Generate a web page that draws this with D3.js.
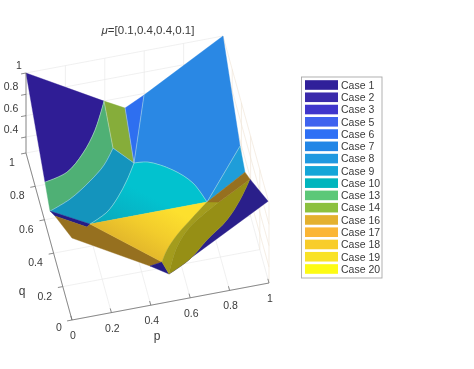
<!DOCTYPE html>
<html>
<head>
<meta charset="utf-8">
<script src="https://cdn.jsdelivr.net/npm/d3@7"></script>
<style>
  html, body { margin: 0; padding: 0; background: #fff; }
  svg { display: block; filter: blur(0.3px); }
  text { font-family: "Liberation Sans", sans-serif; fill: #3a3a3a; }
</style>
</head>
<body>
<div id="chart"></div>
<script>
// legend
const caseNames = ['Case 1', 'Case 2', 'Case 3', 'Case 5', 'Case 6', 'Case 7', 'Case 8', 'Case 9',
  'Case 10', 'Case 13', 'Case 14', 'Case 16', 'Case 17', 'Case 18', 'Case 19', 'Case 20'];
const caseColors = ['#30209a', '#3a2aaa', '#4036cc', '#3f63ef', '#2f70f5', '#2286e6', '#2099e0', '#14a6d8',
  '#00b5bd', '#5cc878', '#8cc13f', '#e4b12e', '#fbb635', '#f8cd2a', '#f9e226', '#fdfb14'];

const pTicks = [0, 0.2, 0.4, 0.6, 0.8, 1];
const qTicks = [0, 0.2, 0.4, 0.6, 0.8, 1];
const zTicks = [0.4, 0.6, 0.8, 1];

// surface vertices, [p, q, z]
const cornerA = [0, 1, 1];
const cornerG = [1, 1, 1];
const ptB = [0.396, 1, 0.599];
const ptC = [0.503, 1, 0.497];
const ptH = [0.599, 1, 0.585];
const ptD = [0.4795, 0.7057, 0.45];
const ptE = [0.3839, 0.7527, 0.55];
const ptK = [0.78, 0.4056, 0.45];
const ptL = [0.186, 0.4055, 0.45];
const ptN = [0.5044, 0.2035, 0.3];
const ptO = [0.5293, 0.1582, 0.25];
const ptP = [0.4411, 0.1936, 0.3];
const ptQ = [0.1019, 0.4364, 0.3];
const ptR = [0.0349, 0.5189, 0.4];
const ptS = [0.1718, 0.4099, 0.42];
const ptT = [0.8379, 0.3928, 0.45];
const edgeF = [0, 0.587, 0.624];
const edgeM = [0, 0.478, 0.523];
const right1 = [1, 0.63, 0.547];
const right2 = [1, 0.522, 0.472];
const right3 = [1, 0.413, 0.577];
const right4 = [1, 0.02, 0.985];

// curved borders, end points included
const arcFB = [edgeF, [0.1228, 0.6347, 0.6], [0.2253, 0.7258, 0.6], [0.3138, 0.8439, 0.6], ptB];
const arcME = [edgeM, [0.1085, 0.5083, 0.55], [0.229, 0.5894, 0.55], [0.3178, 0.6655, 0.55], ptE];
const arcLD = [ptL, [0.2841, 0.4556, 0.45], [0.3571, 0.5293, 0.45], [0.4231, 0.6164, 0.45], ptD];
const arcDK = [ptD, [0.5484, 0.6965, 0.45], [0.6584, 0.6242, 0.45], [0.7377, 0.5288, 0.45], ptK];
const arcKN = [ptK, [0.7025, 0.3779, 0.38], [0.6013, 0.2925, 0.38], [0.5331, 0.2178, 0.38], ptN];
const arcTO = [ptT, [0.6747, 0.3242, 0.38], [0.5854, 0.2242, 0.38], ptO];
const arcOU = [ptO, [0.6435, 0.1907, 0.3], [0.7366, 0.2197, 0.4], [0.8526, 0.2818, 0.45], [0.9348, 0.3513, 0.5], right3];

const rev = a => a.slice().reverse();
const arc = a => ({ arc: a });

// each border is a straight run of vertices or an arc
const patches = [
  { fill: '#2f1d95', segs: [[cornerA, ptB], arc(rev(arcFB))] },
  { fill: '#4fb075', segs: [arc(arcFB), [ptB, ptE], arc(rev(arcME))] },
  { fill: '#86ad3a', segs: [[ptB, ptC, ptD, ptE]] },
  { fill: '#2e6ff0', segs: [[ptC, ptH, ptD]] },
  { fill: '#2a88e4', segs: [[ptH, cornerG, right1, ptK], arc(rev(arcDK))] },
  { fill: '#1f9dd9', segs: [[right1, right2, ptK]] },
  { fill: '#1494bd', segs: [arc(arcME), [ptE, ptD], arc(rev(arcLD))] },
  { fill: 'url(#cyanShade)', segs: [arc(arcLD), arc(arcDK)] },
  { fill: '#241c85', segs: [[edgeM, ptL, ptS, ptR]] },
  { fill: '#96701f', segs: [[ptR, ptS, ptL, ptN, ptP, ptQ]] },
  { fill: 'url(#yellowShade)', segs: [[ptL, ptK], arc(arcKN)] },
  { fill: '#241c85', segs: [[ptP, ptN, ptO]] },
  { fill: '#2a1f8a', segs: [arc(arcOU), [right3, right4]] },
  { fill: '#a39c1d', segs: [[ptK, ptT], arc(arcTO), [ptO, ptN], arc(rev(arcKN))] },
  { fill: '#968f15', segs: [[ptT, right3], arc(rev(arcOU)), arc(rev(arcTO))] },
  { fill: '#96701f', segs: [[ptK, right2, right3, ptT]] }
];

// lighter seams between the regions
const seams = [
  arc(arcFB), arc(arcME), arc(arcLD), arc(arcDK),
  [ptB, ptE, ptD], [ptC, ptD], [ptH, ptD], [right1, ptK]
];

const width = 474, height = 369;

// oblique view: screen position is the sum of one scale per data axis
const xP = d3.scaleLinear().domain([0, 1]).range([72, 269]);
const xQ = d3.scaleLinear().domain([0, 1]).range([0, -46]);
const yP = d3.scaleLinear().domain([0, 1]).range([320, 283]);
const yQ = d3.scaleLinear().domain([0, 1]).range([0, -167]);
const yZ = d3.scaleLinear().domain([0.25, 1]).range([0, -80]);
const zMin = yZ.domain()[0];

const px = d => xP(d[0]) + xQ(d[1]);
const py = d => yP(d[0]) + yQ(d[1]) + yZ(d[2]);
const line3 = d3.line().x(px).y(py);
const curve3 = d3.line().x(px).y(py).curve(d3.curveCatmullRom);

// join the borders of a patch into one path
const segPath = s => s.arc ? curve3(s.arc) : line3(s);
const patchPath = segs => segs.map((s, i) => i ? segPath(s).replace(/^M/, 'L') : segPath(s)).join('') + 'Z';

const svg = d3.select('#chart').append('svg').attr('width', width).attr('height', height);

const defs = svg.append('defs');
const yellow = defs.append('linearGradient').attr('id', 'yellowShade')
  .attr('x1', 0.15).attr('y1', 0.85).attr('x2', 0.95).attr('y2', 0.15);
yellow.append('stop').attr('offset', 0).attr('stop-color', '#d8a92a');
yellow.append('stop').attr('offset', 0.5).attr('stop-color', '#f2cc2c');
yellow.append('stop').attr('offset', 0.85).attr('stop-color', '#fde02e');
const cyan = defs.append('linearGradient').attr('id', 'cyanShade')
  .attr('x1', 0).attr('y1', 1).attr('x2', 0.8).attr('y2', 0.2);
cyan.append('stop').attr('offset', 0).attr('stop-color', '#0aa6bc');
cyan.append('stop').attr('offset', 0.6).attr('stop-color', '#02c2cf');

// walls and floor grid
const grid = svg.append('g').attr('fill', 'none').attr('stroke-width', 0.7);
const gridLine = (a, b, color) => grid.append('path').attr('d', line3([a, b])).attr('stroke', color);

pTicks.forEach(p => {
  gridLine([p, 0, zMin], [p, 1, zMin], '#e9e9e9');
  gridLine([p, 1, zMin], [p, 1, 1], '#e9e9e9');
});
qTicks.forEach(q => {
  gridLine([0, q, zMin], [1, q, zMin], '#e9e9e9');
  gridLine([1, q, zMin], [1, q, 1], '#f1e6da');
});
zTicks.forEach(z => {
  gridLine([0, 1, z], [1, 1, z], '#e9e9e9');
  gridLine([1, 1, z], [1, 0, z], '#f1e6da');
});

// surface
svg.append('g').selectAll('path').data(patches).join('path')
  .attr('d', d => patchPath(d.segs))
  .attr('fill', d => d.fill)
  .attr('stroke', d => d.fill)
  .attr('stroke-width', 0.4)
  .attr('stroke-linejoin', 'round');

svg.append('g').selectAll('path').data(seams).join('path')
  .attr('d', segPath)
  .attr('fill', 'none')
  .attr('stroke', '#cfe6e6')
  .attr('stroke-opacity', 0.6)
  .attr('stroke-width', 0.8);

// axes
const axes = svg.append('g').attr('stroke', '#6e6e6e').attr('stroke-width', 0.8).attr('fill', 'none');
axes.append('path').attr('d', line3([[0, 0, zMin], [1, 0, zMin]]));
axes.append('path').attr('d', line3([[0, 0, zMin], [0, 1, zMin]]));
axes.append('path').attr('d', line3([[0, 1, zMin], [0, 1, 1]]));
pTicks.forEach(p => axes.append('path').attr('d', line3([[p, 0, zMin], [p, 0.025, zMin]])));
qTicks.forEach(q => axes.append('path').attr('d', line3([[0, q, zMin], [-0.025, q, zMin]])));
zTicks.forEach(z => axes.append('path').attr('d', line3([[0, 1, z], [-0.025, 1, z]])));

const labels = svg.append('g').attr('font-size', 10.5).attr('text-anchor', 'middle');
pTicks.forEach(p => labels.append('text')
  .attr('x', px([p, 0, zMin]) + 1).attr('y', py([p, 0, zMin]) + 19).text(p));
qTicks.forEach(q => labels.append('text')
  .attr('x', px([0, q, zMin]) - (q === 0 ? 13 : q === 1 ? 14 : 18))
  .attr('y', py([0, q, zMin]) + (q === 0 ? 11 : 13)).text(q));
zTicks.forEach(z => labels.append('text')
  .attr('x', px([0, 1, z]) - (z === 1 ? 7 : 15))
  .attr('y', py([0, 1, z]) - 4).text(z));

svg.append('text').attr('x', 157).attr('y', 340).attr('text-anchor', 'middle').attr('font-size', 12).text('p');
svg.append('text').attr('x', 22).attr('y', 295).attr('text-anchor', 'middle').attr('font-size', 12).text('q');

const title = svg.append('text').attr('x', 148).attr('y', 34).attr('text-anchor', 'middle').attr('font-size', 11.5);
title.append('tspan').attr('font-style', 'italic').text('μ');
title.append('tspan').text('=[0.1,0.4,0.4,0.1]');

// legend
const legendY = d3.scalePoint().domain(caseNames).range([85, 269]);
const legend = svg.append('g');
legend.append('rect').attr('x', 301.5).attr('y', 77).attr('width', 80.5).attr('height', 201)
  .attr('fill', '#fff').attr('stroke', '#a8a8a8').attr('stroke-width', 0.9);
const rows = legend.selectAll('g').data(caseNames).join('g')
  .attr('transform', d => `translate(0,${legendY(d)})`);
rows.append('rect').attr('x', 305).attr('y', -4.8).attr('width', 33).attr('height', 9.6)
  .attr('fill', (d, i) => caseColors[i]);
rows.append('text').attr('x', 341).attr('y', 3.8).attr('font-size', 10.5).text(d => d);
</script>
</body>
</html>
